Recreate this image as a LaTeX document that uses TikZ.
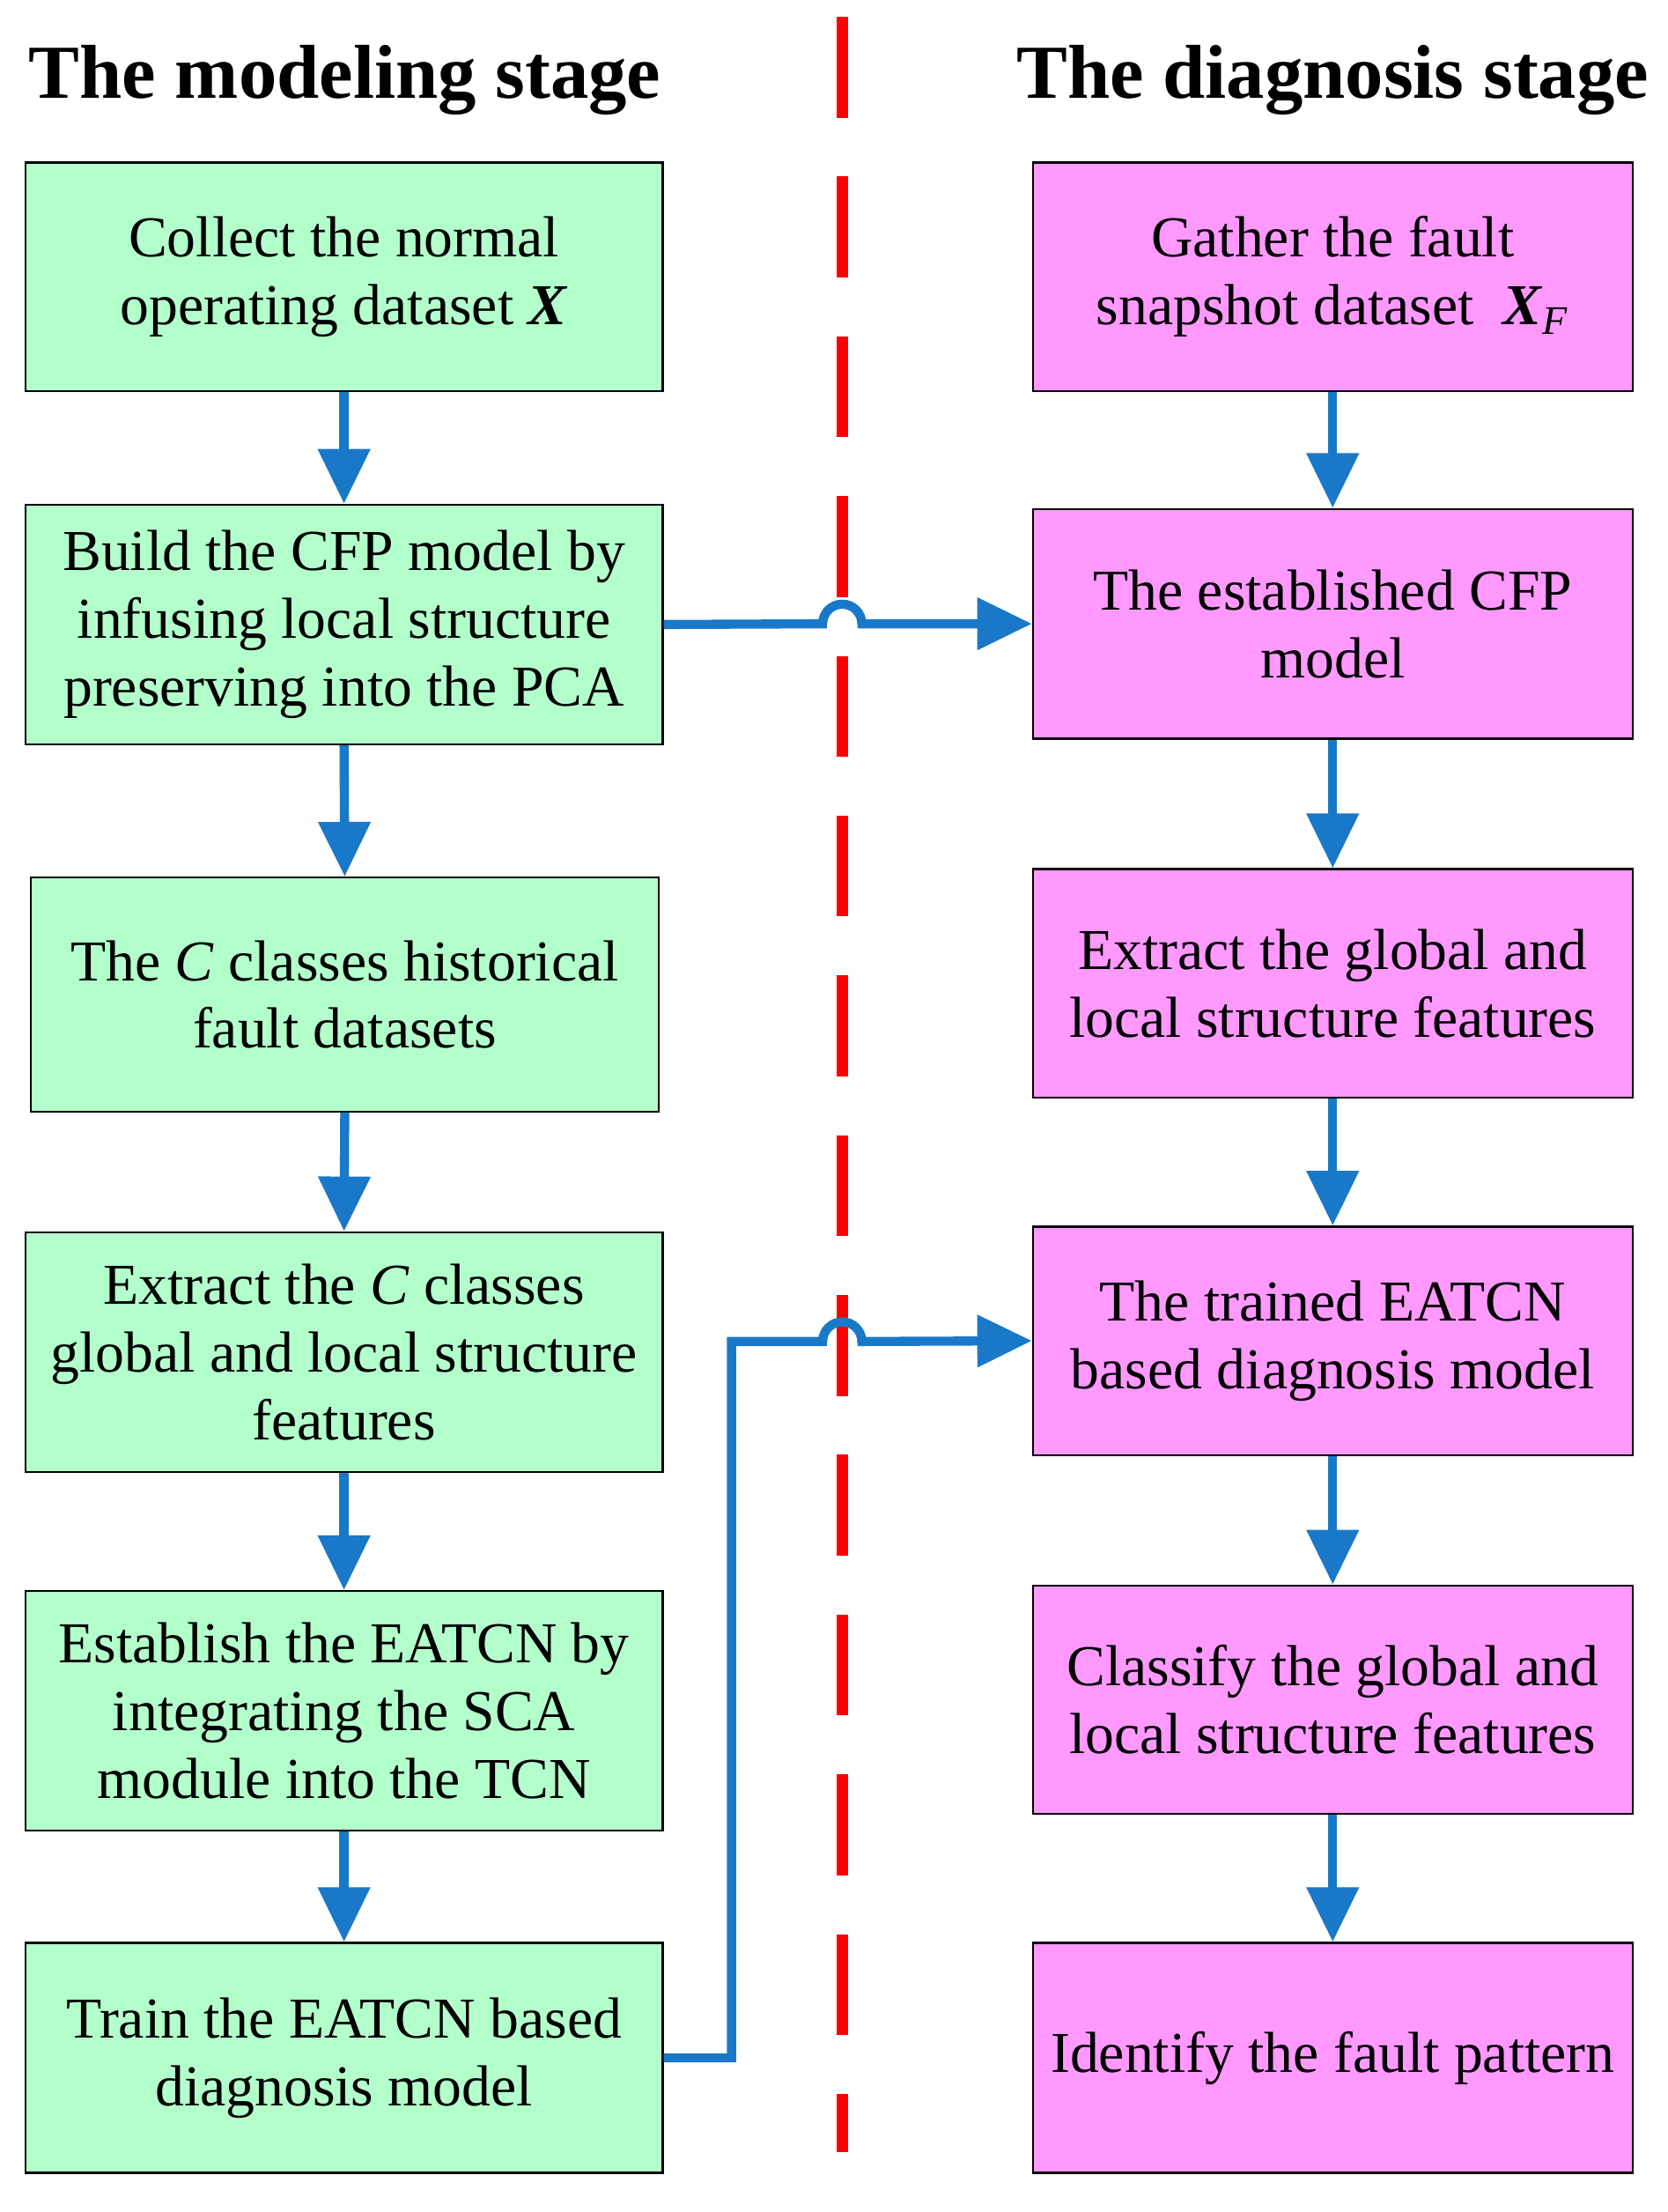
\documentclass[tikz,border=0pt]{standalone}
\usepackage{fontspec}
\setmainfont{Liberation Serif}
\usetikzlibrary{arrows.meta}
\begin{document}
\begin{tikzpicture}[x=0.02cm,y=-0.02cm,
  box/.style={draw=black,line width=0.8pt,align=center,inner sep=0pt,font=\fontsize{23.5}{27.5}\selectfont},
  lb/.style={box,fill={rgb,255:red,179;green,255;blue,204}},
  rb/.style={box,fill={rgb,255:red,255;green,153;blue,255}},
  arr/.style={draw={rgb,255:red,26;green,120;blue,200},line width=0.13cm,-{Triangle[length=0.78cm,width=0.72cm]}},
  ttl/.style={font=\fontsize{31}{36}\selectfont\bfseries}]
\useasboundingbox (0,0) rectangle (1190,1578);
\node[ttl] (t1) at (246,57) {The modeling stage};
\node[ttl] (t2) at (951,57) {The diagnosis stage};
\draw[red,line width=0.16cm,dash pattern=on 1.44cm off 0.84cm] (601,12) -- (601,1535);
% left boxes
\node[lb,minimum width=9.1cm,minimum height=3.26cm] (l1) at (245.5,197.5) {Collect the normal\\operating dataset \textbf{\textit{X}}};
\node[lb,minimum width=9.1cm,minimum height=3.42cm] (l2) at (245.5,445.5) {Build the CFP model by\\infusing local structure\\preserving into the PCA};
\node[lb,minimum width=8.96cm,minimum height=3.34cm] (l3) at (246,709.5) {The \textit{C} classes historical\\fault datasets};
\node[lb,minimum width=9.1cm,minimum height=3.42cm] (l4) at (245.5,964.5) {Extract the \textit{C} classes\\global and local structure\\features};
\node[lb,minimum width=9.1cm,minimum height=3.42cm] (l5) at (245.5,1220.5) {Establish the EATCN by\\integrating the SCA\\module into the TCN};
\node[lb,minimum width=9.1cm,minimum height=3.28cm] (l6) at (245.5,1468) {Train the EATCN based\\diagnosis model};
% right boxes
\node[rb,minimum width=8.56cm,minimum height=3.26cm] (r1) at (951,197.5) {Gather the fault\\snapshot dataset \ \textbf{\textit{X}}\textsubscript{\textit{F}}};
\node[rb,minimum width=8.56cm,minimum height=3.28cm] (r2) at (951,445) {The established CFP\\model};
\node[rb,minimum width=8.56cm,minimum height=3.26cm] (r3) at (951,701.5) {Extract the global and\\local structure features};
\node[rb,minimum width=8.56cm,minimum height=3.26cm] (r4) at (951,956.5) {The trained EATCN\\based diagnosis model};
\node[rb,minimum width=8.56cm,minimum height=3.26cm] (r5) at (951,1212.5) {Classify the global and\\local structure features};
\node[rb,minimum width=8.56cm,minimum height=3.28cm] (r6) at (951,1468) {Identify the fault pattern};
% vertical arrows
\foreach \a/\b in {l1/l2,l2/l3,l3/l4,l4/l5,l5/l6,r1/r2,r2/r3,r3/r4,r4/r5,r5/r6}
  \draw[arr] (\a.south) -- (\b.north);
% cross arrows with hops
\draw[arr] (l2.east) -- (587,445) arc[start angle=180,end angle=0,radius=0.28cm] -- (r2.west);
\coordinate (c1) at (522,1468);
\coordinate (c2) at (522,957);
\draw[arr] (l6.east) -- (c1) -- (c2) -- (587,957) arc[start angle=180,end angle=0,radius=0.28cm] -- (r4.west);
\end{tikzpicture}
\end{document}
